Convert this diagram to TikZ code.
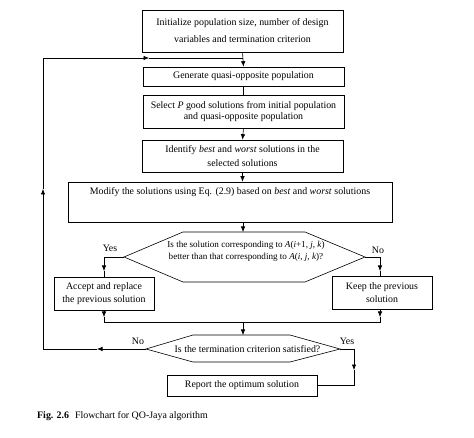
\documentclass[tikz,border=0pt]{standalone}
\usepackage{fontspec}
\setmainfont{Liberation Serif}
\usetikzlibrary{arrows.meta}
\tikzset{
  ln/.style={line width=0.6pt},
  box/.style={draw, ln, inner sep=0pt, align=center, font=\fontsize{9.9}{11}\selectfont},
  lbl/.style={inner sep=0pt, font=\fontsize{9.9}{11}\selectfont},
  tip/.style={-{Latex[length=5.5pt,width=4.5pt]}},
}
\begin{document}
\begin{tikzpicture}[x=1pt,y=-1pt]
\useasboundingbox (0,0) rectangle (474,438);
% boxes
\node[box, minimum width=201pt, minimum height=42pt, font=\fontsize{9.9}{17}\selectfont] (init) at (242.5,31) {Initialize population size, number of design\\variables and termination criterion};
\node[box, minimum width=201pt, minimum height=19pt] (gen) at (243.5,76.5) {Generate quasi-opposite population};
\node[box, minimum width=201pt, minimum height=33pt] (sel) at (243.5,111.5) {Select \textit{P} good solutions from initial population\\and quasi-opposite population};
\node[box, minimum width=201pt, minimum height=32pt, font=\fontsize{9.9}{14}\selectfont] (ident) at (242.5,156) {Identify \textit{best} and \textit{worst} solutions in the\\selected solutions};
\node[box, minimum width=324pt, minimum height=40pt, font=\fontsize{9.9}{17}\selectfont] (mod) at (230,202) {Modify the solutions using Eq. (2.9) based on \textit{best} and \textit{worst} solutions\\\strut};
% decision 1
\coordinate (h1L) at (124,257);
\coordinate (h1R) at (365,257);
\coordinate (h1T) at (243,232);
\draw[ln] (h1L) -- (183,232) -- (305,232) -- (h1R) -- (305,282) -- (183,282) -- cycle;
\node[lbl, align=center, font=\fontsize{9.1}{12}\selectfont] (q1) at (246,251) {Is the solution corresponding to \textit{A}(\textit{i}+1, \textit{j}, \textit{k})\\better than that corresponding to \textit{A}(\textit{i}, \textit{j}, \textit{k})?};
\node[box, minimum width=100pt, minimum height=33pt, font=\fontsize{9.9}{13}\selectfont] (acc) at (104,293.5) {Accept and replace\\the previous solution};
\node[box, minimum width=100pt, minimum height=33pt, font=\fontsize{9.9}{13}\selectfont] (keep) at (382,292.5) {Keep the previous\\solution};
% decision 2
\coordinate (h2L) at (146,349);
\coordinate (h2R) at (340,349);
\coordinate (h2T) at (243,335);
\draw[ln] (h2L) -- (193,335) -- (290,335) -- (h2R) -- (290,362) -- (193,362) -- cycle;
\node[lbl] (q2) at (247.5,349) {Is the termination criterion satisfied?};
\node[box, minimum width=150pt, minimum height=21pt] (rep) at (242,385.5) {Report the optimum solution};
% labels
\node[lbl] (yes1) at (110,248) {Yes};
\node[lbl] (no1) at (378,250) {No};
\node[lbl] (no2) at (138,341) {No};
\node[lbl] (yes2) at (347,341) {Yes};
% connector waypoints
\coordinate (top) at (243,58);
\coordinate (lpL) at (43,349);
\coordinate (lpT) at (43,58);
\coordinate (y1) at (104,257);
\coordinate (y1t) at (104,271);
\coordinate (n1) at (380,257);
\coordinate (n1t) at (380,271);
\coordinate (n1b) at (380,276);
\coordinate (at) at (104,317);
\coordinate (kb) at (380,309);
\coordinate (kt) at (380,317);
\coordinate (mL) at (104,322);
\coordinate (mR) at (380,322);
\coordinate (mC) at (243,322);
\coordinate (lt) at (97,349);
\coordinate (ut) at (43,189);
\coordinate (rt) at (149,58);
\coordinate (y2) at (354,349);
\coordinate (y2t) at (354,370);
\coordinate (y2b) at (354,385.5);
% connectors
\draw[ln,tip] (init.south) -- (gen.north);
\draw[ln] (gen.south) -- (sel.north);
\draw[ln,tip] (sel.south) -- (ident.north);
\draw[ln,tip] (ident.south) -- (ident.south |- mod.north);
\draw[ln,tip] (243,222) -- (h1T);
\draw[ln,tip] (h1L) -- (y1) -- (y1t);
\draw[ln] (y1t) -- (acc.north);
\draw[ln,tip] (h1R) -- (n1) -- (n1t);
\draw[ln] (n1t) -- (n1b);
\draw[ln,tip] (acc.south) -- (at);
\draw[ln,tip] (kb) -- (kt);
\draw[ln] (at) -- (mL) -- (mR) -- (kt);
\draw[ln,tip] (mC) -- (h2T);
\draw[ln,tip] (h2L) -- (lt);
\draw[ln,tip] (lt) -- (lpL) -- (ut);
\draw[ln,tip] (ut) -- (lpT) -- (rt);
\draw[ln] (rt) -- (top);
\draw[ln,tip] (h2R) -- (y2) -- (y2t);
\draw[ln] (y2t) -- (y2b) -- (rep.east);
% caption
\node[lbl, anchor=base west] (cap) at (37,418) {\textbf{Fig. 2.6}\hspace{6pt}Flowchart for QO-Jaya algorithm};
\end{tikzpicture}
\end{document}
